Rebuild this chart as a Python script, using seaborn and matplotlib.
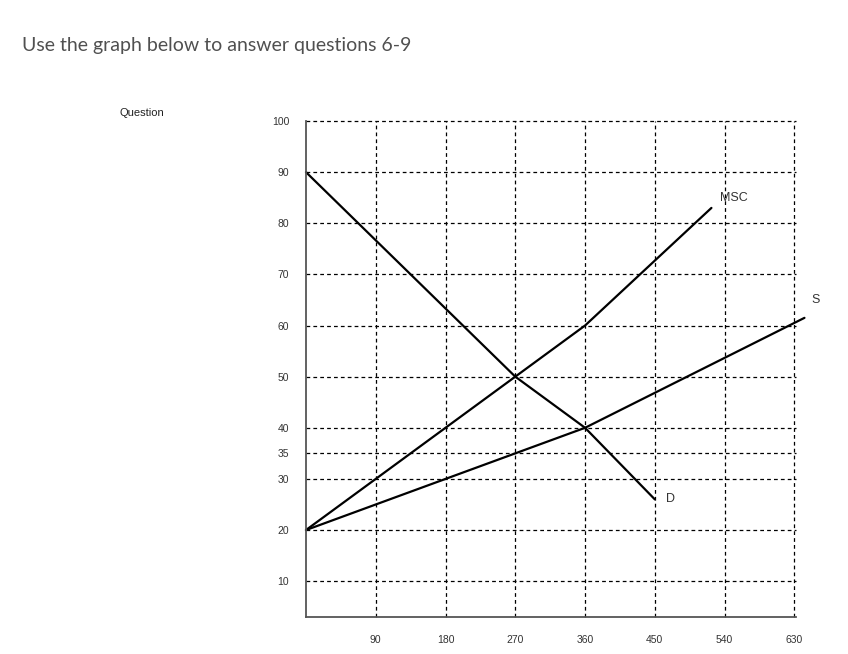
import matplotlib
matplotlib.use("Agg")
import matplotlib.pyplot as plt
import seaborn as sns
import pandas as pd

# quantity / price points
d_q = [0, 270, 360, 450]
d_p = [90, 50, 40, 26]
msc_q = [0, 270, 360, 523]
msc_p = [20, 50, 60, 83]
s_q = [0, 180, 360, 643]
s_p = [20, 30, 40, 61.5]

x_ticks = [90, 180, 270, 360, 450, 540, 630]
y_ticks = [10, 20, 30, 35, 40, 50, 60, 70, 80, 90, 100]

sns.set_style("white")
plt.rcParams['font.family'] = ['Liberation Sans', 'DejaVu Sans']

fig = plt.figure(figsize=(8.48, 6.54), dpi=100)
ax = fig.add_axes([0.3608, 0.0566, 0.5778, 0.7584])

df = pd.concat([
    pd.DataFrame({'Q': d_q, 'P': d_p, 'curve': 'D'}),
    pd.DataFrame({'Q': msc_q, 'P': msc_p, 'curve': 'MSC'}),
    pd.DataFrame({'Q': s_q, 'P': s_p, 'curve': 'S'}),
])

for name in ['D', 'MSC', 'S']:
    sub = df[df['curve'] == name]
    sns.lineplot(data=sub, x='Q', y='P', color='black', linewidth=1.6,
                 sort=False, estimator=None, ax=ax, clip_on=False)

ax.set_xlim(0, 632)
ax.set_ylim(3, 100)
ax.set_xticks(x_ticks)
ax.set_yticks(y_ticks)
ax.set_xlabel('')
ax.set_ylabel('')

ax.grid(True, color='black', linestyle=(0, (3, 2.5)), linewidth=0.9, clip_on=False)
ax.set_axisbelow(True)
for side in ['top', 'right']:
    ax.spines[side].set_visible(False)
for side in ['left', 'bottom']:
    ax.spines[side].set_color('#555555')
    ax.spines[side].set_linewidth(1.3)

ax.tick_params(axis='y', length=6, width=0.9, color='black', pad=6,
               labelsize=7.5, labelcolor='#333333')
ax.tick_params(axis='x', length=0, pad=13, labelsize=7.5, labelcolor='#333333')

ax.text(534, 85, 'MSC', fontsize=9, color='#333333', va='center')
ax.text(652, 65, 'S', fontsize=9, color='#333333', va='center', clip_on=False)
ax.text(465, 26, 'D', fontsize=9, color='#333333', va='center')

fig.text(22 / 848, 1 - 45 / 654, 'Use the graph below to answer questions 6-9',
         fontsize=14, color='#505050', family=['Lato', 'DejaVu Sans'],
         va='center', ha='left')
fig.text(120 / 848, 1 - 113 / 654, 'Question', fontsize=8, color='#222222',
         va='center', ha='left')

fig.savefig('out.png', dpi=100)
